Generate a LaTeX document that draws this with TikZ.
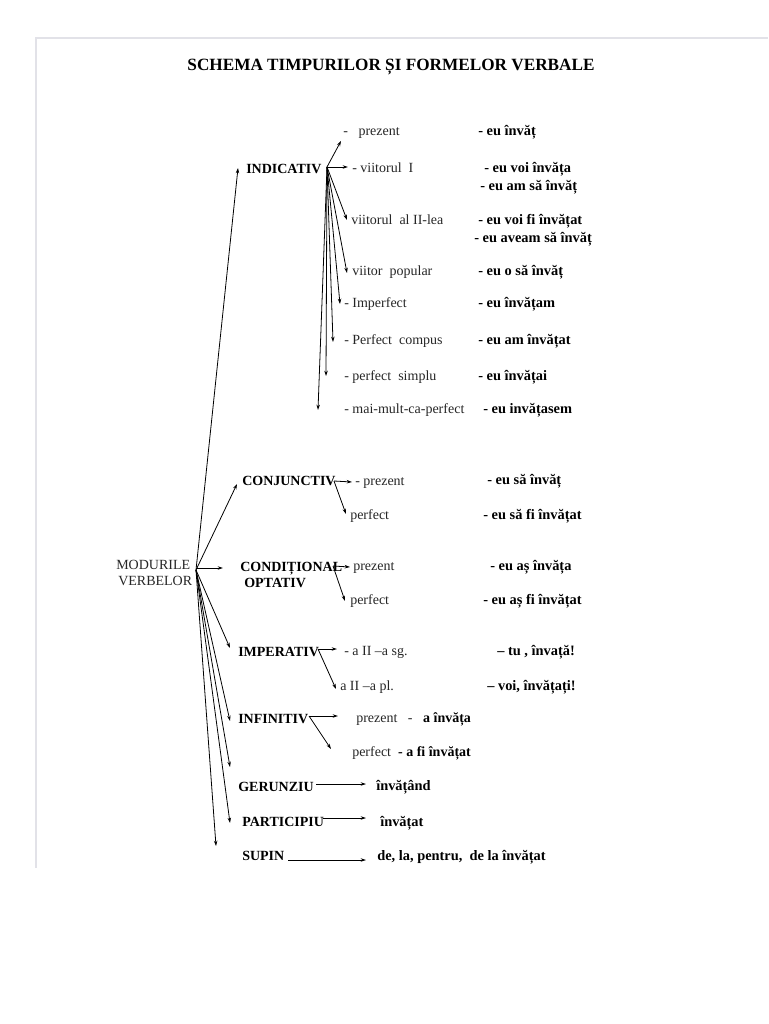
\documentclass[tikz,border=0pt]{standalone}
\usepackage{fontspec}
\setmainfont{Liberation Serif}
\usetikzlibrary{arrows.meta}
\begin{document}
\begin{tikzpicture}[x=0.75pt,y=-0.75pt,
  reg/.style={anchor=base west,inner sep=0pt,font=\fontsize{10.5}{12}\selectfont,text=black!85},
  bld/.style={anchor=base west,inner sep=0pt,font=\fontsize{10.5}{12}\selectfont\bfseries},
  frm/.style={anchor=base west,inner sep=0pt,font=\fontsize{10.8}{12}\selectfont\bfseries},
  ttl/.style={anchor=base,inner sep=0pt,font=\fontsize{12.9}{15}\selectfont\bfseries},
  arr/.style={-{Stealth[length=4pt,width=2.6pt]},line width=0.6pt},
  pageframe/.style={draw={rgb,255:red,226;green,226;blue,232},line width=1pt}]
\useasboundingbox (0,0) rectangle (768,1024);
% faint page frame
\coordinate (fA) at (768,38);
\coordinate (fB) at (36,38);
\coordinate (fC) at (36,868);
\draw[pageframe] (fA) -- (fB) -- (fC);

\node[ttl] (title) at (391,70.5) {SCHEMA TIMPURILOR ȘI FORMELOR VERBALE};

% root
\node[reg] (modA) at (116,569) {MODURILE};
\node[reg] (modB) at (118,585) {VERBELOR};
\coordinate (mo) at (196,570);

% moods
\node[bld] (ind) at (246,173) {INDICATIV};
\node[bld] (conj) at (242,485) {CONJUNCTIV};
\node[bld] (cond) at (240,571) {CONDIȚIONAL};
\node[bld] (opt) at (244,587) {OPTATIV};
\node[bld] (imp) at (238,656) {IMPERATIV};
\node[bld] (inf) at (238,723) {INFINITIV};
\node[bld] (ger) at (238,791) {GERUNZIU};
\node[bld] (part) at (242,826) {PARTICIPIU};
\node[bld] (sup) at (242,860) {SUPIN};

% indicativ tenses
\node[reg] (i1) at (343,135) {-\hspace{8pt}prezent};
\node[reg] (i2) at (352,172) {- viitorul\ \ I};
\node[reg] (i3) at (351,224) {viitorul\ \ al II-lea};
\node[reg] (i4) at (352,275) {viitor\ \ popular};
\node[reg] (i5) at (344,307) {- Imperfect};
\node[reg] (i6) at (344,344) {- Perfect\ \ compus};
\node[reg] (i7) at (344,380) {- perfect\ \ simplu};
\node[reg] (i8) at (344,413) {- mai-mult-ca-perfect};

\node[frm] (f1) at (478,135) {- eu învăț};
\node[frm] (f2) at (484,172) {- eu voi învăța};
\node[frm] (f2b) at (480,190) {- eu am să învăț};
\node[frm] (f3) at (478,224) {- eu voi fi învățat};
\node[frm] (f3b) at (474,242) {- eu aveam să învăț};
\node[frm] (f4) at (478,275) {- eu o să învăț};
\node[frm] (f5) at (478,307) {- eu învățam};
\node[frm] (f6) at (478,344) {- eu am învățat};
\node[frm] (f7) at (478,380) {- eu învățai};
\node[frm] (f8) at (483,413) {- eu invățasem};

% conjunctiv
\node[reg] (c1) at (355,485) {- prezent};
\node[reg] (c2) at (350,519) {perfect};
\node[frm] (cf1) at (487,484) {- eu să învăț};
\node[frm] (cf2) at (483,519) {- eu să fi învățat};

% conditional
\node[reg] (d1) at (353,570) {prezent};
\node[reg] (d2) at (350,604) {perfect};
\node[frm] (df1) at (490,570) {- eu aș învăța};
\node[frm] (df2) at (483,604) {- eu aș fi învățat};

% imperativ
\node[reg] (m1) at (344,655) {- a II –a sg.};
\node[reg] (m2) at (340,690) {a II –a pl.};
\node[frm] (mf1) at (497,655) {– tu , învață!};
\node[frm] (mf2) at (487,690) {– voi, învățați!};

% infinitiv
\node[reg] (n1) at (356,722) {prezent\ \ \ -\ \ \ \textbf{\color{black}a învăța}};
\node[reg] (n2) at (352,756) {perfect\ \ \textbf{\color{black}- a fi învățat}};

% gerunziu, participiu, supin
\node[frm] (g1) at (376,790) {învățând};
\node[frm] (p1) at (380,826) {învățat};
\node[frm] (s1) at (377,860) {de, la, pentru,\ \ de la învățat};

% ---- coordinates of arrow ends
\coordinate (tInd) at (238,168);
\coordinate (tConj) at (237,484);
\coordinate (oCond) at (196,568);
\coordinate (tCond) at (223,568);
\coordinate (tImp) at (230,648);
\coordinate (tInf) at (230,721);
\coordinate (tGer) at (230,767);
\coordinate (tPart) at (230,823);
\coordinate (tSup) at (216,846);

\draw[arr] (mo) -- (tInd);
\draw[arr] (mo) -- (tConj);
\draw[arr] (oCond) -- (tCond);
\draw[arr] (mo) -- (tImp);
\draw[arr] (mo) -- (tInf);
\draw[arr] (mo) -- (tGer);
\draw[arr] (mo) -- (tPart);
\draw[arr] (mo) -- (tSup);

% indicativ fan
\coordinate (io) at (327,167);
\coordinate (ti1) at (341,141);
\coordinate (ti2) at (348,167);
\coordinate (ti3) at (347,220);
\coordinate (ti4) at (347,273);
\coordinate (ti5) at (340,304);
\coordinate (ti6) at (333,342);
\coordinate (ti7) at (326,376);
\coordinate (ti8) at (318,410);
\foreach \t in {ti1,ti2,ti3,ti4,ti5,ti6,ti7,ti8} \draw[arr] (io) -- (\t);

% conjunctiv fan
\coordinate (co) at (334,481);
\coordinate (tc1) at (352,482);
\coordinate (tc2) at (346,514);
\draw[arr] (co) -- (tc1);
\draw[arr] (co) -- (tc2);

% conditional fan
\coordinate (do) at (333,566);
\coordinate (td1) at (350,567);
\coordinate (td2) at (345,601);
\draw[arr] (do) -- (td1);
\draw[arr] (do) -- (td2);

% imperativ fan
\coordinate (mo2) at (318,649);
\coordinate (tm1) at (337,649);
\coordinate (tm2) at (336,689);
\draw[arr] (mo2) -- (tm1);
\draw[arr] (mo2) -- (tm2);

% infinitiv fan
\coordinate (no) at (309,716);
\coordinate (tn1) at (338,716);
\coordinate (tn2) at (331,749);
\draw[arr] (no) -- (tn1);
\draw[arr] (no) -- (tn2);

% single arrows
\coordinate (go) at (316,784);
\coordinate (tg) at (366,784);
\coordinate (po) at (323,818);
\coordinate (tp) at (366,818);
\coordinate (so) at (288,860);
\coordinate (ts) at (366,860);
\draw[arr] (go) -- (tg);
\draw[arr] (po) -- (tp);
\draw[arr] (so) -- (ts);
\end{tikzpicture}
\end{document}
